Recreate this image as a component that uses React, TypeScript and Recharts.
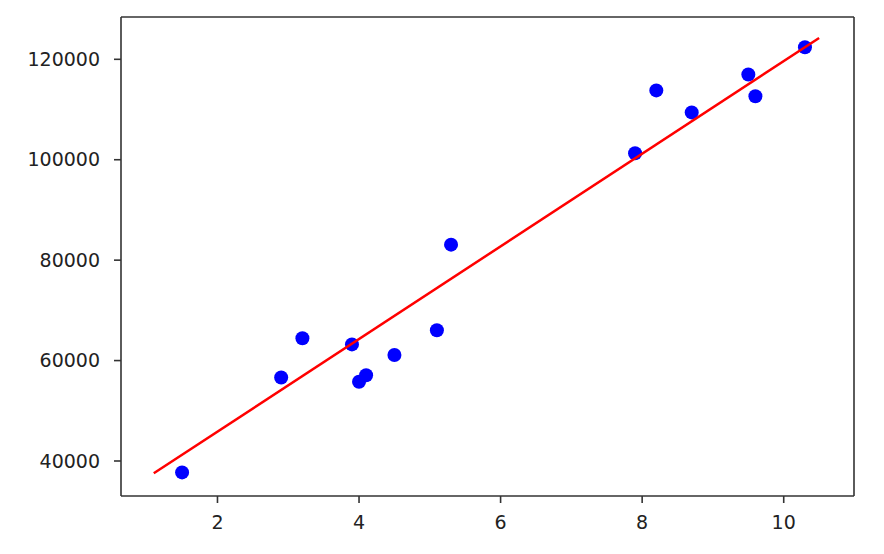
import React from "react";
import { ScatterChart, Scatter, XAxis, YAxis, ReferenceLine } from "recharts";

const experience = [1.5, 2.9, 3.2, 3.9, 4.0, 4.1, 4.5, 5.1, 5.3, 7.9, 8.2, 8.7, 9.5, 9.6, 10.3];
const salary = [37731, 56642, 64445, 63218, 55794, 57081, 61111, 66029, 83088, 101302, 113812, 109431, 116969, 112635, 122391];
const fitX = [1.1, 10.5];
const fitY = [37550, 124250];
const xTicks = [2, 4, 6, 8, 10];
const yTicks = [40000, 60000, 80000, 100000, 120000];
const xDomain = [0.637, 10.993];
const yDomain = [33028, 128426];

const points = experience.map((x, i) => ({ x, y: salary[i] }));
const fitLine = fitX.map((x, i) => ({ x, y: fitY[i] }));

const tickStyle = { fontFamily: "DejaVu Sans", fontSize: 19, fill: "#222" };
const axisStroke = { stroke: "#333", strokeWidth: 1.6 };

const Dot = (props: any) => <circle cx={props.cx} cy={props.cy} r={7} fill="#0000ff" />;
const NoDot = () => <g />;

export default function App() {
  return (
    <div style={{ position: "absolute", left: 0, top: 0, background: "#fff" }}>
      <ScatterChart width={884} height={554} margin={{ top: 17, right: 30, bottom: 0, left: 0 }}>
        <XAxis
          type="number"
          dataKey="x"
          domain={xDomain}
          ticks={xTicks}
          allowDataOverflow
          height={58}
          tickSize={7}
          tickMargin={12.5}
          tick={tickStyle}
          axisLine={axisStroke}
          tickLine={axisStroke}
        />
        <YAxis
          type="number"
          dataKey="y"
          domain={yDomain}
          ticks={yTicks}
          allowDataOverflow
          width={121}
          tickSize={7}
          tickMargin={14}
          tick={tickStyle}
          axisLine={axisStroke}
          tickLine={axisStroke}
        />
        <ReferenceLine y={yDomain[1]} stroke="#333" strokeWidth={1.6} />
        <ReferenceLine x={xDomain[1]} stroke="#333" strokeWidth={1.6} />
        <Scatter data={points} shape={Dot} isAnimationActive={false} />
        <Scatter
          data={fitLine}
          shape={NoDot}
          line={{ stroke: "#ff0000", strokeWidth: 2.5 }}
          isAnimationActive={false}
        />
      </ScatterChart>
    </div>
  );
}
